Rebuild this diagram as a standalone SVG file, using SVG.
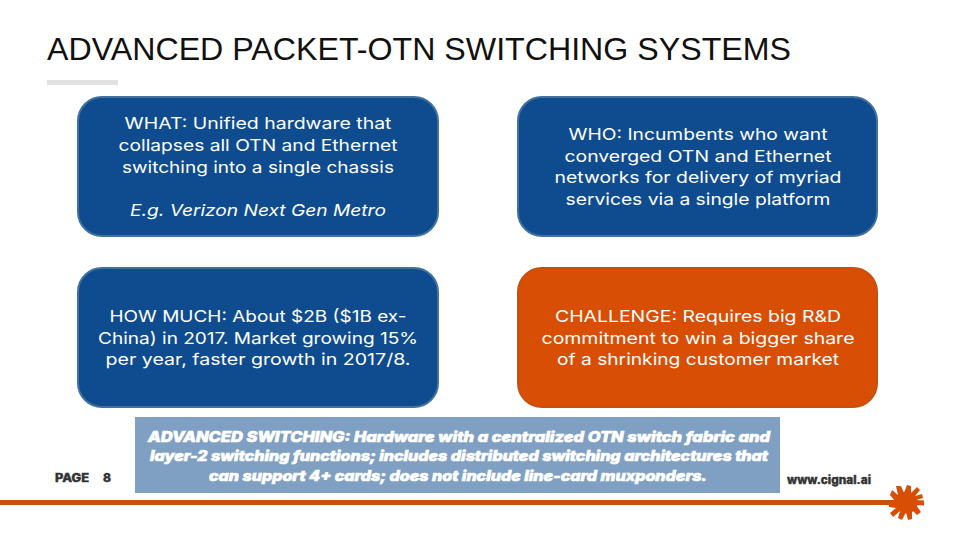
<svg xmlns="http://www.w3.org/2000/svg" width="960" height="540" viewBox="0 0 960 540">
<style>
.t{font-family:"Inter","Liberation Sans",sans-serif;font-size:16.5px;fill:#fff;text-anchor:middle}
.card{stroke-width:2}
.b{fill:#0f4c8f;stroke:#41719c}
.o{fill:#d84e05;stroke:#c8500f}
.n{font-family:"Inter","Liberation Sans",sans-serif;font-size:14.5px;font-weight:800;font-style:italic;fill:#fff;text-anchor:middle;stroke:#fff;stroke-width:.7}
.f{font-family:"Inter","Liberation Sans",sans-serif;font-size:11.5px;font-weight:800;fill:#333;stroke:#333;stroke-width:.4}
</style>
<rect width="960" height="540" fill="#fff"/>
<text x="47" y="60" font-family="Liberation Sans,sans-serif" font-size="31" fill="#111" textLength="744" lengthAdjust="spacingAndGlyphs">ADVANCED PACKET-OTN SWITCHING SYSTEMS</text>
<rect x="47" y="80" width="71" height="5" fill="#e2e2e2"/>
<g id="what"><rect class="card b" x="78" y="97" width="360" height="139" rx="24"/>
<text class="t" x="258" y="129" textLength="267" lengthAdjust="spacingAndGlyphs">WHAT: Unified hardware that</text>
<text class="t" x="258" y="151" textLength="279" lengthAdjust="spacingAndGlyphs">collapses all OTN and Ethernet</text>
<text class="t" x="258" y="173" textLength="272" lengthAdjust="spacingAndGlyphs">switching into a single chassis</text>
<text class="t" x="258" y="216" font-style="italic" textLength="256" lengthAdjust="spacingAndGlyphs">E.g. Verizon Next Gen Metro</text></g>
<g id="who"><rect class="card b" x="518" y="97" width="359" height="139" rx="24"/>
<text class="t" x="698" y="140" textLength="259" lengthAdjust="spacingAndGlyphs">WHO: Incumbents who want</text>
<text class="t" x="698" y="162" textLength="267" lengthAdjust="spacingAndGlyphs">converged OTN and Ethernet</text>
<text class="t" x="698" y="183" textLength="287" lengthAdjust="spacingAndGlyphs">networks for delivery of myriad</text>
<text class="t" x="698" y="205" textLength="265" lengthAdjust="spacingAndGlyphs">services via a single platform</text></g>
<g id="howmuch"><rect class="card b" x="78" y="268" width="360" height="139" rx="24"/>
<text class="t" x="258" y="322" textLength="297" lengthAdjust="spacingAndGlyphs">HOW MUCH: About $2B ($1B ex-</text>
<text class="t" x="258" y="344" textLength="320" lengthAdjust="spacingAndGlyphs">China) in 2017. Market growing 15%</text>
<text class="t" x="258" y="365" textLength="305" lengthAdjust="spacingAndGlyphs">per year, faster growth in 2017/8.</text></g>
<g id="challenge"><rect class="card o" x="518" y="268" width="359" height="139" rx="24"/>
<text class="t" x="698" y="322" textLength="286" lengthAdjust="spacingAndGlyphs">CHALLENGE: Requires big R&amp;D</text>
<text class="t" x="698" y="344" textLength="313" lengthAdjust="spacingAndGlyphs">commitment to win a bigger share</text>
<text class="t" x="698" y="365" textLength="282" lengthAdjust="spacingAndGlyphs">of a shrinking customer market</text></g>
<g id="note"><rect x="135" y="417" width="645" height="76" fill="#7f9fc3"/>
<text class="n" x="459" y="442" textLength="622" lengthAdjust="spacingAndGlyphs">ADVANCED SWITCHING: Hardware with a centralized OTN switch fabric and</text>
<text class="n" x="459" y="461" textLength="618" lengthAdjust="spacingAndGlyphs">layer-2 switching functions; includes distributed switching architectures that</text>
<text class="n" x="458" y="481" textLength="498" lengthAdjust="spacingAndGlyphs">can support 4+ cards; does not include line-card muxponders.</text></g>
<text class="f" x="55" y="482" textLength="34" lengthAdjust="spacingAndGlyphs">PAGE</text>
<text class="f" x="103" y="482" textLength="8" lengthAdjust="spacingAndGlyphs">8</text>
<text class="f" x="787" y="484" textLength="84" lengthAdjust="spacingAndGlyphs">www.cignal.ai</text>
<rect x="0" y="500" width="895" height="5" fill="#c8500f"/>
<g id="burst" fill="#d84e05"><circle cx="906.500" cy="502.500" r="11"/>
<polygon points="924,500.500 924,505.500 916,505 921,512 917,515 912,510 912,519 908,520 906,512 902,520 898,518 900,511 893,517 890,513 896,508 889,507 889,502 895,501 890,495 892,490 898,495 896,486 901,486 904,493 907,485 911,486 911,493 917,487 920,490 915,496 922,494 923,498 916,500"/></g>
</svg>
